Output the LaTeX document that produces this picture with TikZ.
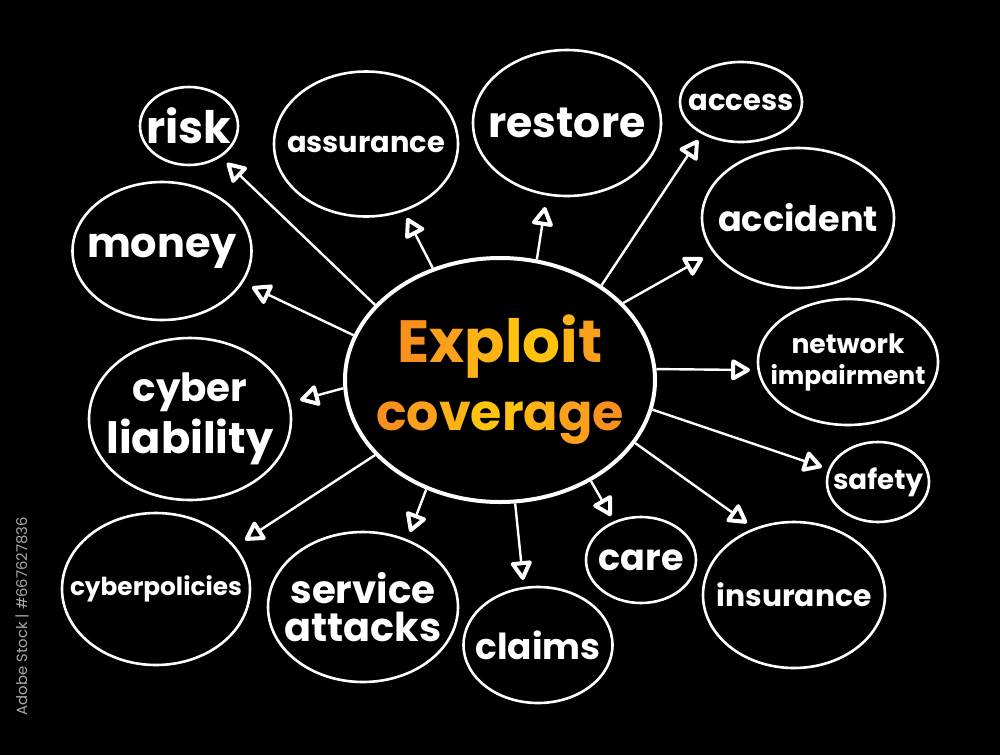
\documentclass[tikz,border=0pt]{standalone}
\usepackage{fontspec}
\setmainfont{Poppins}
\usetikzlibrary{shapes.geometric,arrows.meta}
\setlength{\lineskiplimit}{-100pt}
\newcommand{\tw}[2]{\resizebox{#1}{!}{#2}}
\definecolor{oa}{HTML}{F7901D}
\definecolor{ob}{HTML}{FAA01B}
\definecolor{oc}{HTML}{FDB316}
\definecolor{od}{HTML}{FFC20E}
\definecolor{wm}{HTML}{A8A8A8}
\begin{document}
\begin{tikzpicture}[x=1pt,y=-1pt,
  bub/.style={ellipse,draw=white,line width=2.6pt,fill=black,inner sep=0pt},
  lbl/.style={text=white,align=center,inner sep=0pt,font=\bfseries\fontsize{40}{44}\selectfont},
  arr/.style={draw=white,line width=2.4pt,
    -{Triangle[open,length=21pt,width=23pt,line width=4pt,round]}}]
\fill[black] (0,0) rectangle (1000,755);
\useasboundingbox (0,0) rectangle (1000,755);

% watermark stamp
\node[rotate=90,text=wm,inner sep=0pt] (stamp) at (22,616)
  {\tw{198pt}{Adobe Stock | \#667627836}};

% centre
\node[bub,line width=4pt,minimum width=310pt,minimum height=244pt,
  label={[lbl,font=\bfseries\fontsize{60}{68}\selectfont]center:{\tw{205pt}{\textcolor{oa}{E}\textcolor{ob}{x}\textcolor{oc}{p}\textcolor{od}{l}\textcolor{od}{o}\textcolor{oc}{i}\textcolor{ob}{t}}\\
   \tw{248pt}{\textcolor{oa}{c}\textcolor{ob}{o}\textcolor{oc}{v}\textcolor{od}{e}\textcolor{od}{r}\textcolor{oc}{a}\textcolor{ob}{g}\textcolor{oa}{e}}}}] (c) at (500,380) {};

% satellites
\node[bub,minimum width=98pt,minimum height=78pt,label={[lbl]center:{\tw{85pt}{risk}}}] (risk) at (189,126) {};
\node[bub,minimum width=184pt,minimum height=145pt,label={[lbl]center:{\tw{158pt}{assurance}}}] (assurance) at (366,144) {};
\node[bub,minimum width=188pt,minimum height=146pt,label={[lbl]center:{\tw{157pt}{restore}}}] (restore) at (567,123) {};
\node[bub,minimum width=122pt,minimum height=80pt,label={[lbl]center:{\tw{105pt}{access}}}] (access) at (741,102) {};
\node[bub,minimum width=192pt,minimum height=140pt,label={[lbl]center:{\tw{160pt}{accident}}}] (accident) at (798,218) {};
\node[bub,minimum width=179pt,minimum height=138pt,label={[lbl]center:{\tw{150pt}{money}}}] (money) at (162,251) {};
\node[bub,minimum width=180pt,minimum height=126pt,
  label={[lbl,font=\bfseries\fontsize{30}{31}\selectfont]center:{\tw{113pt}{network}\\\tw{155pt}{impairment}}}] (network) at (848,362) {};
\node[bub,minimum width=202pt,minimum height=162pt,
  label={[lbl,font=\bfseries\fontsize{44}{52}\selectfont]center:{\tw{115pt}{cyber}\\\tw{167pt}{liability}}}] (cyber) at (190,419) {};
\node[bub,minimum width=102pt,minimum height=80pt,label={[lbl]center:{\tw{90pt}{safety}}}] (safety) at (878,482) {};
\node[bub,minimum width=188pt,minimum height=152pt,label={[lbl]center:{\tw{172pt}{cyberpolicies}}}] (cyberpol) at (156,589) {};
\node[bub,minimum width=190pt,minimum height=150pt,
  label={[lbl,font=\bfseries\fontsize{38}{38}\selectfont]center:{\tw{145pt}{service}\\\tw{157pt}{attacks}}}] (service) at (363,607) {};
\node[bub,minimum width=149pt,minimum height=116pt,label={[lbl]center:{\tw{125pt}{claims}}}] (claims) at (538,645) {};
\node[bub,minimum width=110pt,minimum height=86pt,label={[lbl]center:{\tw{85pt}{care}}}] (care) at (641,560) {};
\node[bub,minimum width=182pt,minimum height=146pt,label={[lbl]center:{\tw{155pt}{insurance}}}] (insurance) at (794,595) {};

% arrow tips
\coordinate (tRisk) at (227,163);
\coordinate (tMoney) at (252,287);
\coordinate (tCyber) at (300,400);
\coordinate (tCyberpol) at (245,540);
\coordinate (tService) at (410,532);
\coordinate (tClaims) at (523,580);
\coordinate (tCare) at (611,516);
\coordinate (tInsurance) at (747,523);
\coordinate (tSafety) at (822,467);
\coordinate (tNetwork) at (750,370);
\coordinate (tAccident) at (703,258);
\coordinate (tAccess) at (698,140);
\coordinate (tRestore) at (545,207);
\coordinate (tAssurance) at (407,218);

\draw[arr] (c.149) -- (tRisk);
\draw[arr] (c.163) -- (tMoney);
\draw[arr] (c.183) -- (tCyber);
\draw[arr] (c.211) -- (tCyberpol);
\draw[arr] (c.236) -- (tService);
\draw[arr] (c.277) -- (tClaims);
\draw[arr] (c.312) -- (tCare);
\draw[arr] (c.335) -- (tInsurance);
\draw[arr] (c.349) -- (tSafety);
\draw[arr] (c.4) -- (tNetwork);
\draw[arr] (c.32) -- (tAccident);
\draw[arr] (c.43) -- (tAccess);
\draw[arr] (c.73) -- (tRestore);
\draw[arr] (c.121) -- (tAssurance);
\end{tikzpicture}
\end{document}
